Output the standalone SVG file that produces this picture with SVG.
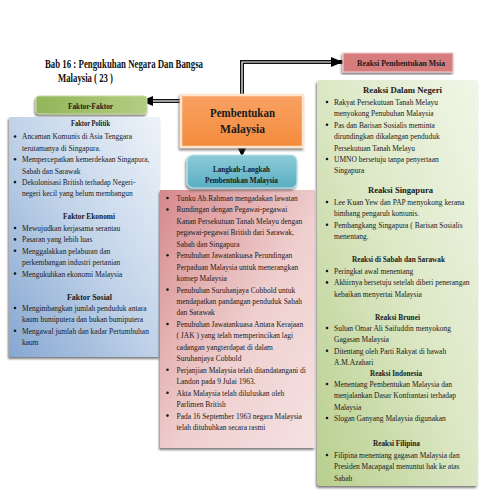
<svg xmlns="http://www.w3.org/2000/svg" width="495" height="495" viewBox="0 0 495 495">
<defs>
<linearGradient id="gBlue" x1="0" y1="1" x2="1" y2="0"><stop offset="0" stop-color="#86a7d1"/><stop offset="0.5" stop-color="#c1d3e9"/><stop offset="1" stop-color="#eef3f9"/></linearGradient>
<linearGradient id="gPink" x1="0" y1="0" x2="1" y2="1"><stop offset="0" stop-color="#d6898b"/><stop offset="0.55" stop-color="#efcfcf"/><stop offset="1" stop-color="#f6e2e2"/></linearGradient>
<linearGradient id="gGreen" x1="0" y1="1" x2="1" y2="0"><stop offset="0" stop-color="#b8cf8e"/><stop offset="0.5" stop-color="#dbe7c4"/><stop offset="1" stop-color="#f1f6e7"/></linearGradient>
<linearGradient id="gOlive" x1="0" y1="0" x2="1" y2="0"><stop offset="0" stop-color="#93b55a"/><stop offset="1" stop-color="#b4cd82"/></linearGradient>
<linearGradient id="gTeal" x1="0" y1="0" x2="0" y2="1"><stop offset="0" stop-color="#8ccbd8"/><stop offset="1" stop-color="#5aaec2"/></linearGradient>
<linearGradient id="gOrange" x1="0" y1="0" x2="0" y2="1"><stop offset="0" stop-color="#f9a263"/><stop offset="1" stop-color="#f38b3c"/></linearGradient>
<filter id="sh" x="-10%" y="-10%" width="125%" height="125%"><feDropShadow dx="-1" dy="2" stdDeviation="1.2" flood-color="#3a3a3a" flood-opacity="0.65"/></filter>
<marker id="ah" viewBox="0 0 12 10" refX="12" refY="5" markerWidth="12" markerHeight="10" markerUnits="userSpaceOnUse" orient="auto"><path d="M0,0 L12,5 L0,10 z" fill="#000"/></marker>
</defs>
<style>
.b{font-family:"Liberation Serif","Times New Roman",serif;font-size:9px;fill:#1a1a1a}
.h{font-family:"Liberation Serif","Times New Roman",serif;font-size:9px;font-weight:bold;fill:#1a1a1a}
.t{font-family:"Liberation Serif","Times New Roman",serif;font-size:12px;font-weight:bold;fill:#111}
.big{font-family:"Liberation Serif","Times New Roman",serif;font-size:13.5px;font-weight:bold;fill:#1a1a1a}
.dot{fill:#1a1a1a}
.dl{fill:none;stroke:#111;stroke-width:4}
.dw{fill:none;stroke:#fff;stroke-width:1.2}
</style>
<rect width="495" height="495" fill="#fff"/>

<g id="title">
<text class="t" x="45" y="68" textLength="158" lengthAdjust="spacingAndGlyphs">Bab 16 : Pengukuhan Negara Dan Bangsa</text>
<text class="t" x="58" y="82" textLength="55" lengthAdjust="spacingAndGlyphs">Malaysia ( 23 )</text>
</g>

<g id="connectors">
<path class="dl" d="M242,95 V62 H343" marker-end="url(#ah)"/>
<path class="dw" d="M242,95 V62 H331"/>
<path class="dl" d="M181,101 H141" marker-end="url(#ah)"/>
<path class="dw" d="M181,101 H153"/>
<polygon points="237,146 247,146 242,157" fill="#000"/>
</g>

<g id="faktor-panel">
<rect x="9" y="117" width="151" height="240" fill="url(#gBlue)" filter="url(#sh)"/>
<text class="h" x="71" y="126" textLength="39" lengthAdjust="spacingAndGlyphs">Faktor Politik</text>
<text class="h" x="63" y="219" textLength="52" lengthAdjust="spacingAndGlyphs">Faktor Ekonomi</text>
<text class="h" x="67" y="300" textLength="45" lengthAdjust="spacingAndGlyphs">Faktor Sosial</text>
<g>
<circle class="dot" cx="15" cy="136.5" r="1.3"/><circle class="dot" cx="15" cy="159.3" r="1.3"/><circle class="dot" cx="15" cy="182.1" r="1.3"/>
<circle class="dot" cx="15" cy="228" r="1.3"/><circle class="dot" cx="15" cy="239.4" r="1.3"/><circle class="dot" cx="15" cy="250.8" r="1.3"/><circle class="dot" cx="15" cy="273.6" r="1.3"/>
<circle class="dot" cx="15" cy="308" r="1.3"/><circle class="dot" cx="15" cy="330.8" r="1.3"/>
</g>
<g transform="translate(22 0) scale(0.83 1)">
<text class="b" x="0" y="139.5">Ancaman Komunis  di Asia Tenggara</text>
<text class="b" x="0" y="150.9">terutamanya di Singapura.</text>
<text class="b" x="0" y="162.3">Mempercepatkan kemerdekaan Singapura,</text>
<text class="b" x="0" y="173.7">Sabah dan Sarawak</text>
<text class="b" x="0" y="185.1">Dekolonisasi British terhadap Negeri-</text>
<text class="b" x="0" y="196.5">negeri kecil yang belum membangun</text>
<text class="b" x="0" y="231">Mewujudkan kerjasama serantau</text>
<text class="b" x="0" y="242.4">Pasaran yang lebih luas</text>
<text class="b" x="0" y="253.8">Menggalakkan pelaburan dan</text>
<text class="b" x="0" y="265.2">perkembangan industri pertanian</text>
<text class="b" x="0" y="276.6">Mengukuhkan ekonomi Malaysia</text>
<text class="b" x="0" y="311">Mengimbangkan jumlah penduduk antara</text>
<text class="b" x="0" y="322.4">kaum bumiputera  dan bukan bumiputera</text>
<text class="b" x="0" y="333.8">Mengawal jumlah dan kadar Pertumbuhan</text>
<text class="b" x="0" y="345.2">kaum</text>
</g>
</g>

<g id="faktor-header">
<rect x="36" y="96" width="111" height="18" rx="3" fill="url(#gOlive)" stroke="#c9dba6" stroke-width="1" filter="url(#sh)"/>
<text class="h" x="68" y="109" textLength="45" lengthAdjust="spacingAndGlyphs">Faktor-Faktor</text>
</g>

<g id="langkah-panel">
<rect x="160" y="190" width="155" height="258" fill="url(#gPink)" filter="url(#sh)"/>
<g>
<circle class="dot" cx="167.5" cy="198" r="1.3"/><circle class="dot" cx="167.5" cy="209.5" r="1.3"/><circle class="dot" cx="167.5" cy="255.3" r="1.3"/><circle class="dot" cx="167.5" cy="289.6" r="1.3"/><circle class="dot" cx="167.5" cy="324" r="1.3"/><circle class="dot" cx="167.5" cy="369.8" r="1.3"/><circle class="dot" cx="167.5" cy="392.7" r="1.3"/><circle class="dot" cx="167.5" cy="415.6" r="1.3"/>
</g>
<g transform="translate(176.5 0) scale(0.83 1)">
<text class="b" x="0" y="201">Tunku Ab.Rahman  mengadakan  lawatan</text>
<text class="b" x="0" y="212.5">Rundingan  dengan  Pegawai-pegawai</text>
<text class="b" x="0" y="224">Kanan  Persekutuan  Tanah  Melayu  dengan</text>
<text class="b" x="0" y="235.4">pegawai-pegawai  British  dari Sarawak,</text>
<text class="b" x="0" y="246.8">Sabah dan Singapura</text>
<text class="b" x="0" y="258.3">Penubuhan  Jawatankuasa  Perundingan</text>
<text class="b" x="0" y="269.7">Perpaduan Malaysia untuk menerangkan</text>
<text class="b" x="0" y="281.2">konsep Malaysia</text>
<text class="b" x="0" y="292.6">Penubuhan Suruhanjaya Cobbold untuk</text>
<text class="b" x="0" y="304">mendapatkan pandangan penduduk Sabah</text>
<text class="b" x="0" y="315.5">dan Sarawak</text>
<text class="b" x="0" y="327">Penubuhan Jawatankuasa Antara Kerajaan</text>
<text class="b" x="0" y="338.4">( JAK ) yang telah memperincikan lagi</text>
<text class="b" x="0" y="349.9">cadangan yangterdapat di dalam</text>
<text class="b" x="0" y="361.3">Suruhanjaya  Cobbold</text>
<text class="b" x="0" y="372.8">Perjanjian Malaysia telah ditandatangani di</text>
<text class="b" x="0" y="384.2">Landon pada 9 Julai 1963.</text>
<text class="b" x="0" y="395.7">Akta Malaysia  telah diluluskan oleh</text>
<text class="b" x="0" y="407.1">Parlimen  British</text>
<text class="b" x="0" y="418.6">Pada 16 September 1963 negara Malaysia</text>
<text class="b" x="0" y="430">telah ditubuhkan  secara rasmi</text>
</g>
</g>

<g id="langkah-header">
<rect x="187" y="155" width="110" height="33" rx="6" fill="url(#gTeal)" stroke="#bfe3ea" stroke-width="1.2" filter="url(#sh)"/>
<text class="h" x="213" y="171.5" textLength="57" lengthAdjust="spacingAndGlyphs">Langkah-Langkah</text>
<text class="h" x="205" y="182.5" textLength="73" lengthAdjust="spacingAndGlyphs">Pembentukan  Malaysia</text>
</g>

<g id="pembentukan">
<rect x="181" y="95" width="122" height="52" fill="url(#gOrange)" stroke="#fde4cc" stroke-width="2.5" filter="url(#sh)"/>
<text class="big" x="210" y="116.5" textLength="65" lengthAdjust="spacingAndGlyphs">Pembentukan</text>
<text class="big" x="220" y="132.5" textLength="45" lengthAdjust="spacingAndGlyphs">Malaysia</text>
</g>

<g id="reaksi-panel">
<rect x="317" y="80" width="161" height="406" rx="3" fill="url(#gGreen)" filter="url(#sh)"/>
<text class="h" x="363" y="93" textLength="79" lengthAdjust="spacingAndGlyphs">Reaksi Dalam Negeri</text>
<text class="h" x="368" y="193" textLength="65" lengthAdjust="spacingAndGlyphs">Reaksi Singapura</text>
<text class="h" x="352" y="262" textLength="93" lengthAdjust="spacingAndGlyphs">Reaksi di Sabah dan Sarawak</text>
<text class="h" x="375" y="320" textLength="45" lengthAdjust="spacingAndGlyphs">Reaksi Brunei</text>
<text class="h" x="370" y="375.5" textLength="52" lengthAdjust="spacingAndGlyphs">Reaksi Indonesia</text>
<text class="h" x="373" y="446" textLength="47" lengthAdjust="spacingAndGlyphs">Reaksi Filipina</text>
<g>
<circle class="dot" cx="327" cy="102" r="1.3"/><circle class="dot" cx="327" cy="124.8" r="1.3"/><circle class="dot" cx="327" cy="159" r="1.3"/>
<circle class="dot" cx="327" cy="202" r="1.3"/><circle class="dot" cx="327" cy="224.8" r="1.3"/>
<circle class="dot" cx="327" cy="271" r="1.3"/><circle class="dot" cx="327" cy="282.4" r="1.3"/>
<circle class="dot" cx="327" cy="328" r="1.3"/><circle class="dot" cx="327" cy="350.8" r="1.3"/>
<circle class="dot" cx="327" cy="384" r="1.3"/><circle class="dot" cx="327" cy="418" r="1.3"/>
<circle class="dot" cx="327" cy="455" r="1.3"/>
</g>
<g transform="translate(334 0) scale(0.83 1)">
<text class="b" x="0" y="105">Rakyat Persekutuan  Tanah  Melayu</text>
<text class="b" x="0" y="116.4">menyokong  Penubuhan  Malaysia</text>
<text class="b" x="0" y="127.8">Pas dan Barisan  Sosialis  meminta</text>
<text class="b" x="0" y="139.2">dirundingkan  dikalangan  penduduk</text>
<text class="b" x="0" y="150.6">Persekutuan  Tanah  Melayu</text>
<text class="b" x="0" y="162">UMNO bersetuju  tanpa penyertaan</text>
<text class="b" x="0" y="173.4">Singapura</text>
<text class="b" x="0" y="205">Lee Kuan Yew dan PAP menyokong  kerana</text>
<text class="b" x="0" y="216.4">bimbang  pengaruh  komunis.</text>
<text class="b" x="0" y="227.8">Pembangkang  Singapura  ( Barisan  Sosialis</text>
<text class="b" x="0" y="239.2">menentang.</text>
<text class="b" x="0" y="274">Peringkat  awal  menentang</text>
<text class="b" x="0" y="285.4">Akhirnya bersetuju setelah diberi penerangan</text>
<text class="b" x="0" y="296.8">kebaikan  menyertai  Malaysia</text>
<text class="b" x="0" y="331">Sultan Omar Ali Saifuddin  menyokong</text>
<text class="b" x="0" y="342.4">Gagasan Malaysia</text>
<text class="b" x="0" y="353.8">Ditentang  oleh  Parti Rakyat di bawah</text>
<text class="b" x="0" y="365.2">A.M.Azahari</text>
<text class="b" x="0" y="387">Menentang  Pembentukan  Malaysia  dan</text>
<text class="b" x="0" y="398.3">menjalankan  Dasar  Konfrantasi  terhadap</text>
<text class="b" x="0" y="409.6">Malaysia</text>
<text class="b" x="0" y="421">Slogan  Ganyang  Malaysia  digunakan</text>
<text class="b" x="0" y="458">Filipina  menentang  gagasan  Malaysia  dan</text>
<text class="b" x="0" y="469.4">Presiden  Macapagal  menuntut  hak ke atas</text>
<text class="b" x="0" y="480.8">Sabah</text>
</g>
</g>

<g id="reaksi-header">
<rect x="343" y="53" width="110" height="19" fill="#d67c7b" stroke="#f2c9c8" stroke-width="1.2" filter="url(#sh)"/>
<text class="h" x="357" y="66" textLength="88" lengthAdjust="spacingAndGlyphs">Reaksi Pembentukan Msia</text>
</g>
</svg>
